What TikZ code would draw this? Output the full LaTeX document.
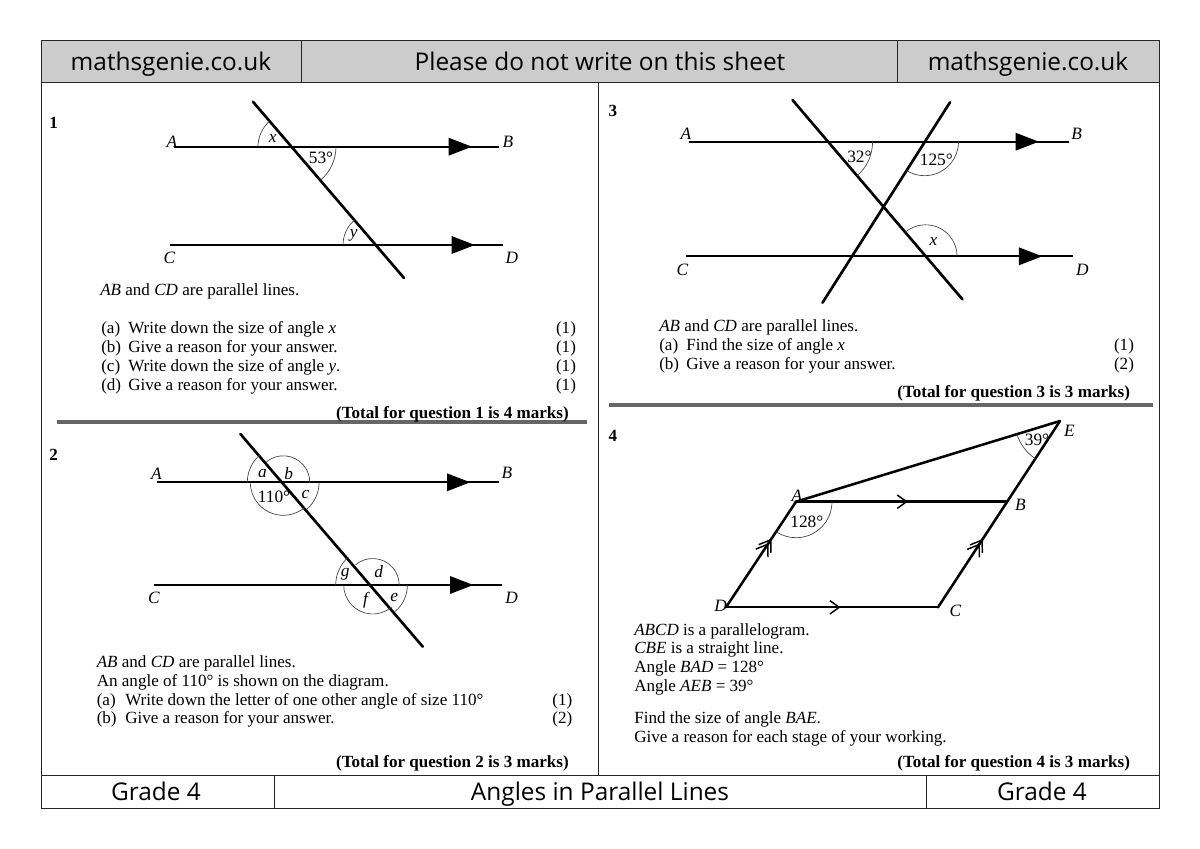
\documentclass[tikz,border=0pt]{standalone}
\usepackage{fontspec}
\setmainfont{Liberation Serif}
\newfontfamily\headfont{Open Sans}
\usetikzlibrary{
    arrows.meta,
    decorations.markings
}
\tikzset{
    % Colors
    band color/.style={fill=black!20},
    rule color/.style={black!60},
    %
    % Frame and text
    frame line/.style={draw=black!85,line width=.75pt},
    head text/.style={anchor=base,inner sep=0pt,font=\headfont\fontsize{18.3pt}{22pt}\selectfont},
    body text/.style={anchor=base west,inner sep=0pt},
    mark text/.style={anchor=base,inner sep=0pt},
    total text/.style={anchor=base east,inner sep=0pt,font=\fontsize{12.8pt}{15pt}\selectfont\bfseries},
    number text/.style={inner sep=0pt,font=\fontsize{12.8pt}{15pt}\selectfont\bfseries},
    point label/.style={inner sep=0pt,font=\fontsize{13pt}{15pt}\selectfont\itshape},
    angle label/.style={inner sep=0pt,font=\fontsize{13pt}{15pt}\selectfont},
    %
    % Lines
    parallel line/.style={line width=1.6pt},
    cross line/.style={line width=2pt,line cap=round},
    shape line/.style={line width=1.9pt,line cap=round},
    angle line/.style={line width=.5pt,draw=black!75},
    divider line/.style={line width=2.4pt,rule color},
    %
    % Arrows
    arrow tip/.tip={Triangle[length=17.5pt,width=13pt]},
    barb tip/.tip={Straight Barb[length=7pt,width=10pt,line width=1.1pt]},
    double barb tip/.tip={Straight Barb[length=8pt,width=11pt,line width=1.1pt]},
    midarrow/.style={postaction=decorate,decoration={markings, mark=at position #1 with {\arrow{arrow tip}}} },
    midbarb/.style={postaction=decorate,decoration={markings, mark=at position #1 with {\arrow{barb tip}}} },
    midbarbs/.style={postaction=decorate,decoration={markings, mark=at position #1 with {\arrow{double barb tip[sep=-5.5pt] double barb tip}}} }
}
\tikzstyle{every node}=[font=\fontsize{12.8pt}{15pt}\selectfont]
% centre, radius, start and end angle
\newcommand{\anglearc}[4]{\draw[angle line] (#1) ++(#3:#2) arc[start angle=#3,end angle=#4,radius=#2];}

\begin{document}
\begin{tikzpicture}[x=.75pt,y=-.75pt]
    \useasboundingbox (0,0) rectangle (1200,849);
    %
    % Header and footer
    \fill[band color] (41,41) rectangle (1159,83);
    \draw[frame line] (41,41) rectangle (1159,808);
    \draw[frame line] (41,83) -- (1159,83);
    \draw[frame line] (41,775) -- (1159,775);
    \draw[frame line] (301,41) -- (301,83);
    \draw[frame line] (897,41) -- (897,83);
    \draw[frame line] (274,775) -- (274,808);
    \draw[frame line] (926,775) -- (926,808);
    \draw[frame line] (598,83) -- (598,775);
    \node[head text] (head left) at (171,70) {mathsgenie.co.uk};
    \node[head text] (head mid) at (600,70) {Please do not write on this sheet};
    \node[head text] (head right) at (1028,70) {mathsgenie.co.uk};
    \node[head text] (foot left) at (156,800) {Grade 4};
    \node[head text] (foot mid) at (600,800) {Angles in Parallel Lines};
    \node[head text] (foot right) at (1042,800) {Grade 4};
    %
    \draw[divider line] (56.5,422) -- (587,422);
    \draw[divider line] (609,405) -- (1153,405);
    %
    % Question 1
    \node[number text] (num1) at (53.6,123) {1};
    \coordinate (q1 P) at (292,146.7);
    \coordinate (q1 Q) at (375.6,245);
    \draw[parallel line,midarrow=.917] (173.5,146.7) -- (499,146.7);
    \draw[parallel line,midarrow=.917] (169.5,245) -- (502.6,245);
    \draw[cross line] (252.9,101.7) -- (404,278);
    \anglearc{q1 P}{34}{180}{229.4}
    \anglearc{q1 P}{44}{0}{49.4}
    \anglearc{q1 Q}{32.6}{180}{229.4}
    \node[point label] (q1 A) at (172,142) {A};
    \node[point label] (q1 B) at (508,142) {B};
    \node[point label] (q1 C) at (169.5,258) {C};
    \node[point label] (q1 D) at (512,258) {D};
    \node[point label] (q1 x) at (272.6,139) {x};
    \node[angle label] (q1 a) at (321,157.7) {53°};
    \node[point label] (q1 y) at (353.8,235) {y};
    \node[body text] (q1 intro) at (100,295) {\textit{AB} and \textit{CD} are parallel lines.};
    \foreach \part/\txt/\m/\ypos in {a/{Write down the size of angle \textit{x}}/1/333, b/{Give a reason for your answer.}/1/352, c/{Write down the size of angle \textit{y}.}/1/371, d/{Give a reason for your answer.}/1/390}{
        \node[body text] (q1 part \part) at (101,\ypos) {(\part)};
        \node[body text] (q1 text \part) at (128,\ypos) {\txt};
        \node[mark text] (q1 mark \part) at (566,\ypos) {(\m)};
    }
    \node[total text] (q1 total) at (569,418) {(Total for question 1 is 4 marks)};
    %
    % Question 2
    \node[number text] (num2) at (53.6,455) {2};
    \coordinate (q2 P) at (283.3,482.3);
    \coordinate (q2 Q) at (372.7,585);
    \draw[parallel line,midarrow=.917] (157.4,482.3) -- (498.7,482.3);
    \draw[parallel line,midarrow=.917] (153.8,585) -- (502.3,585);
    \draw[cross line] (240.4,434) -- (422.8,646.7);
    \anglearc{q2 P}{36}{180}{229.4}
    \anglearc{q2 P}{26.5}{229.4}{360}
    \anglearc{q2 P}{33}{49.4}{180}
    \anglearc{q2 P}{35.8}{0}{49.4}
    \anglearc{q2 Q}{37}{180}{229.4}
    \anglearc{q2 Q}{26.5}{229.4}{360}
    \anglearc{q2 Q}{29}{49.4}{180}
    \anglearc{q2 Q}{34.7}{0}{49.4}
    \node[point label] (q2 A) at (156.3,473.3) {A};
    \node[point label] (q2 B) at (507,473.3) {B};
    \node[point label] (q2 C) at (153.8,598.3) {C};
    \node[point label] (q2 D) at (511.6,598.3) {D};
    \node[point label] (q2 a) at (262.5,473.3) {a};
    \node[point label] (q2 b) at (288.7,473.3) {b};
    \node[point label] (q2 c) at (305.5,494.3) {c};
    \node[point label] (q2 d) at (378.8,572) {d};
    \node[point label] (q2 e) at (394.2,597) {e};
    \node[point label] (q2 f) at (365.6,600) {f};
    \node[point label] (q2 g) at (345.2,574.3) {g};
    \node[angle label] (q2 ang) at (274,497.3) {110°};
    \node[body text] (q2 intro) at (96.5,667) {\textit{AB} and \textit{CD} are parallel lines.};
    \node[body text] (q2 more) at (96.5,686) {An angle of 110° is shown on the diagram.};
    \foreach \part/\txt/\m/\ypos in {a/{Write down the letter of one other angle of size 110°}/1/705, b/{Give a reason for your answer.}/2/723}{
        \node[body text] (q2 part \part) at (96.5,\ypos) {(\part)};
        \node[body text] (q2 text \part) at (125,\ypos) {\txt};
        \node[mark text] (q2 mark \part) at (562.4,\ypos) {(\m)};
    }
    \node[total text] (q2 total) at (569,767) {(Total for question 2 is 3 marks)};
    %
    % Question 3
    \node[number text] (num3) at (612.9,110.7) {3};
    \coordinate (q3 P) at (827.2,141.7);
    \coordinate (q3 Q) at (924.5,141.7);
    \coordinate (q3 R) at (925.6,256.3);
    \draw[parallel line,midarrow=.92] (688.7,141.7) -- (1069.4,141.7);
    \draw[parallel line,midarrow=.92] (685.9,256.3) -- (1073.3,256.3);
    \draw[cross line] (792.5,100) -- (962.4,299.3);
    \draw[cross line] (950,102.3) -- (822.5,302.7);
    \anglearc{q3 P}{45.4}{0}{49.6}
    \anglearc{q3 Q}{34}{0}{122.5}
    \anglearc{q3 R}{31.5}{229.6}{360}
    \node[point label] (q3 A) at (685.9,134) {A};
    \node[point label] (q3 B) at (1076.6,134) {B};
    \node[point label] (q3 C) at (682.3,270) {C};
    \node[point label] (q3 D) at (1082.3,270) {D};
    \node[angle label] (q3 a) at (859.4,157.3) {32°};
    \node[angle label] (q3 b) at (936.3,160) {125°};
    \node[point label] (q3 x) at (933.5,241.7) {x};
    \node[body text] (q3 intro) at (659,331) {\textit{AB} and \textit{CD} are parallel lines.};
    \foreach \part/\txt/\m/\ypos in {a/{Find the size of angle \textit{x}}/1/350, b/{Give a reason for your answer.}/2/369}{
        \node[body text] (q3 part \part) at (659,\ypos) {(\part)};
        \node[body text] (q3 text \part) at (686,\ypos) {\txt};
        \node[mark text] (q3 mark \part) at (1124,\ypos) {(\m)};
    }
    \node[total text] (q3 total) at (1130.2,397) {(Total for question 3 is 3 marks)};
    %
    % Question 4
    \node[number text] (num4) at (612.9,435.7) {4};
    \node[point label] (q4 A) at (796.8,495.7) {A};
    \node[point label] (q4 B) at (1020.4,505) {B};
    \node[point label] (q4 C) at (955.3,611) {C};
    \node[point label] (q4 D) at (720.6,605.7) {D};
    \node[point label] (q4 E) at (1069.4,431) {E};
    \coordinate (q4 a) at (796,501.7);
    \coordinate (q4 b) at (1007,501.7);
    \coordinate (q4 c) at (938,607.3);
    \coordinate (q4 d) at (726,607.3);
    \coordinate (q4 e) at (1060,421);
    \draw[shape line] (q4 a) -- (q4 e);
    \draw[shape line,midbarb=.53] (q4 a) -- (q4 b);
    \draw[parallel line,midbarb=.54] (q4 d) -- (q4 c);
    \draw[shape line,midbarbs=.65] (q4 d) -- (q4 a);
    \draw[shape line,midbarbs=.367] (q4 c) -- (q4 e);
    \anglearc{q4 a}{36}{0}{123.5}
    \anglearc{q4 e}{45}{123.3}{163}
    \node[angle label] (q4 ang a) at (806.8,521.7) {128°};
    \node[angle label] (q4 ang e) at (1037,440) {39°};
    \node[body text] (q4 line1) at (634,635) {\textit{ABCD} is a parallelogram.};
    \node[body text] (q4 line2) at (634,653) {\textit{CBE} is a straight line.};
    \node[body text] (q4 line3) at (634,672) {Angle \textit{BAD} = 128°};
    \node[body text] (q4 line4) at (634,691) {Angle \textit{AEB} = 39°};
    \node[body text] (q4 line5) at (634,723) {Find the size of angle \textit{BAE}.};
    \node[body text] (q4 line6) at (634,742) {Give a reason for each stage of your working.};
    \node[total text] (q4 total) at (1130.2,767) {(Total for question 4 is 3 marks)};
\end{tikzpicture}
\end{document}
